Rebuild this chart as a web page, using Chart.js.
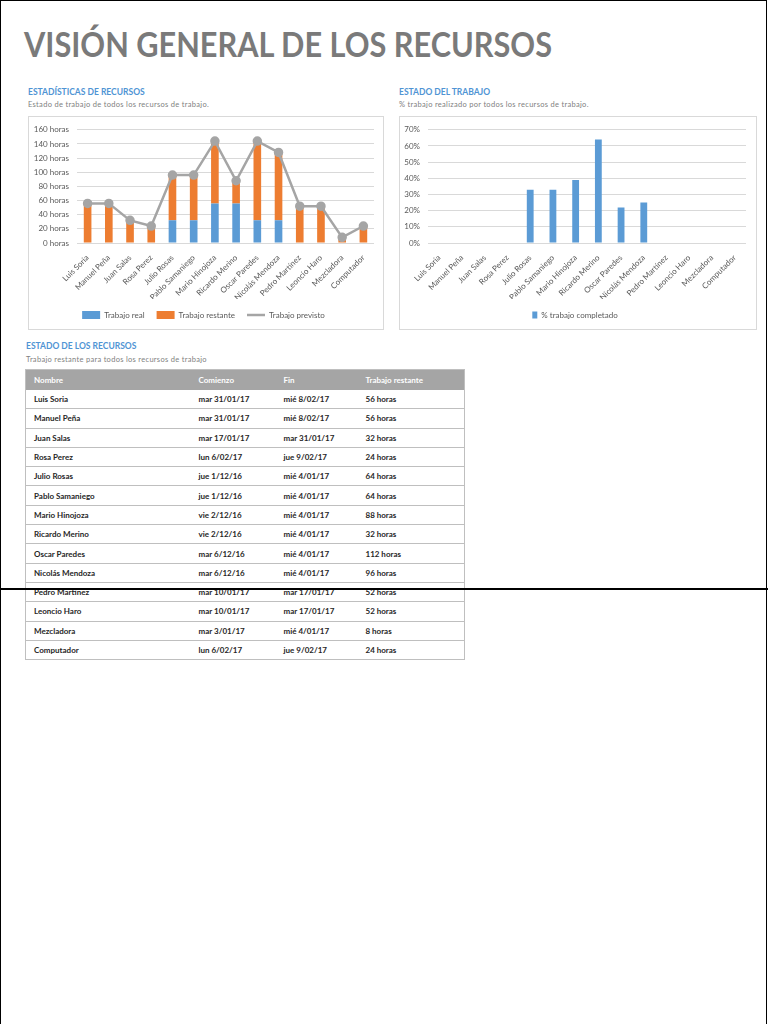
<!DOCTYPE html>
<html>
<head>
<meta charset="utf-8">
<script src="https://cdn.jsdelivr.net/npm/chart.js@4"></script>
<style>
  body { margin: 0; background: #fff; font-family: Lato, "Open Sans", sans-serif; }
  #page { position: relative; width: 768px; height: 1024px; overflow: hidden; }
  #page:before { content: ""; position: absolute; left: 0; top: 0; width: 765px; height: 1030px;
    border-left: 1.5px solid #000; border-top: 1.5px solid #000; border-right: 1.5px solid #000; }
  #titulo { position: absolute; left: 24px; top: 22px; font-size: 35px; font-weight: 700; color: #7a7a7a;
    white-space: nowrap; transform-origin: 0 0; letter-spacing: 0px; }
  .h { position: absolute; font-size: 8.5px; font-weight: 700; color: #4f94d4; white-space: nowrap; }
  .s { position: absolute; font-size: 7.5px; color: #7f7f7f; white-space: nowrap; letter-spacing: 0.3px; }
  .box { position: absolute; border: 1px solid #d9d9d9; box-sizing: border-box; }
  .box canvas { display: block; }
  #linea { position: absolute; left: 0; top: 588px; width: 768px; height: 2px; background: #000; }
  table { position: absolute; left: 25px; top: 369px; width: 440px; border-collapse: collapse; table-layout: fixed;
    font-size: 8px; font-weight: 700; color: #262626; border: 1px solid #bfbfbf; }
  th { background: #a5a5a5; color: #fff; text-align: left; height: 20px; padding: 0 0 0 8px; font-weight: 700; }
  td { height: 18.3px; padding: 0 0 0 8px; border-bottom: 1px solid #bfbfbf; white-space: nowrap; }
</style>
</head>
<body>
<div id="page">
  <div id="titulo">VISIÓN GENERAL DE LOS RECURSOS</div>

  <div class="h" style="left:28px;top:87px">ESTADÍSTICAS DE RECURSOS</div>
  <div class="s" style="left:28px;top:100px">Estado de trabajo de todos los recursos de trabajo.</div>
  <div class="box" style="left:28px;top:116px;width:356px;height:214px"><canvas id="graf1" width="354" height="212"></canvas></div>

  <div class="h" style="left:399px;top:87px">ESTADO DEL TRABAJO</div>
  <div class="s" style="left:399px;top:100px">% trabajo realizado por todos los recursos de trabajo.</div>
  <div class="box" style="left:399px;top:116px;width:358px;height:214px"><canvas id="graf2" width="356" height="212"></canvas></div>

  <div class="h" style="left:26px;top:341px">ESTADO DE LOS RECURSOS</div>
  <div class="s" style="left:26px;top:355px">Trabajo restante para todos los recursos de trabajo</div>
  <table id="tabla">
    <colgroup><col style="width:165px"><col style="width:85px"><col style="width:82px"><col></colgroup>
    <thead><tr><th>Nombre</th><th>Comienzo</th><th>Fin</th><th>Trabajo restante</th></tr></thead>
    <tbody></tbody>
  </table>
  <div id="linea"></div>
</div>
<script>
const recursos = ["Luis Soria", "Manuel Peña", "Juan Salas", "Rosa Perez", "Julio Rosas", "Pablo Samaniego",
  "Mario Hinojoza", "Ricardo Merino", "Oscar Paredes", "Nicolás Mendoza", "Pedro Martínez", "Leoncio Haro",
  "Mezcladora", "Computador"];
const trabajoReal = [0, 0, 0, 0, 32, 32, 56, 56, 32, 32, 0, 0, 0, 0];
const trabajoRestante = [56, 56, 32, 24, 64, 64, 88, 32, 112, 96, 52, 52, 8, 24];
const trabajoPrevisto = [56, 56, 32, 24, 96, 96, 144, 88, 144, 128, 52, 52, 8, 24];
const porcCompletado = [0, 0, 0, 0, 33, 33, 39, 64, 22, 25, 0, 0, 0, 0];
const comienzo = ["mar 31/01/17", "mar 31/01/17", "mar 17/01/17", "lun 6/02/17", "jue 1/12/16", "jue 1/12/16",
  "vie 2/12/16", "vie 2/12/16", "mar 6/12/16", "mar 6/12/16", "mar 10/01/17", "mar 10/01/17", "mar 3/01/17", "lun 6/02/17"];
const fin = ["mié 8/02/17", "mié 8/02/17", "mar 31/01/17", "jue 9/02/17", "mié 4/01/17", "mié 4/01/17",
  "mié 4/01/17", "mié 4/01/17", "mié 4/01/17", "mié 4/01/17", "mar 17/01/17", "mar 17/01/17", "mié 4/01/17", "jue 9/02/17"];

const azul = "#5b9bd5", naranja = "#ed7d31", gris = "#a5a5a5";
const texto = "#595959";
Chart.defaults.font.family = "Lato, 'Open Sans', sans-serif";
Chart.defaults.font.size = 8;
Chart.defaults.color = texto;

// titulo: ajustar ancho
const t = document.getElementById("titulo");
t.style.transform = "scaleX(" + (528 / t.offsetWidth) + ")";

// tabla
const tb = document.querySelector("#tabla tbody");
for (let i = 0; i < recursos.length; i++) {
  const tr = document.createElement("tr");
  [recursos[i], comienzo[i], fin[i], trabajoRestante[i] + " horas"].forEach(function(v){
    const td = document.createElement("td");
    td.textContent = v;
    tr.appendChild(td);
  });
  tb.appendChild(tr);
}

const fijarY = function(w){ return function(s){ s.width = w; }; };
const fijarX = function(h){ return function(s){ s.height = h; }; };
const etiquetas = function(chart){
  const items = Chart.defaults.plugins.legend.labels.generateLabels(chart);
  items.forEach(function(it){
    it.pointStyle = chart.data.datasets[it.datasetIndex].type === "line" ? "line" : "rect";
  });
  return items;
};

new Chart(document.getElementById("graf1"), {
  type: "bar",
  data: {
    labels: recursos,
    datasets: [
      { type: "line", label: "Trabajo previsto", data: trabajoPrevisto, stack: "linea",
        borderColor: gris, backgroundColor: gris, borderWidth: 2.5, pointRadius: 3.5,
        pointBackgroundColor: gris, pointBorderColor: gris, tension: 0 },
      { label: "Trabajo real", data: trabajoReal, backgroundColor: azul, stack: "barras" },
      { label: "Trabajo restante", data: trabajoRestante, backgroundColor: naranja, stack: "barras" }
    ]
  },
  options: {
    responsive: false,
    animation: false,
    devicePixelRatio: 1,
    layout: { padding: { left: 4, right: 9, top: 4, bottom: 0 } },
    datasets: { bar: { barPercentage: 1, categoryPercentage: 0.36 } },
    scales: {
      x: { stacked: true, grid: { display: false }, border: { display: false },
        ticks: { autoSkip: false, minRotation: 45, maxRotation: 45, padding: 2 },
        afterFit: fijarX(56) },
      y: { stacked: true, min: 0, max: 160, grid: { color: "#d9d9d9", drawTicks: false }, border: { display: false },
        ticks: { stepSize: 20, padding: 8, callback: function(v){ return v + " horas"; } },
        afterFit: fijarY(44) }
    },
    plugins: {
      legend: { position: "bottom",
        labels: { usePointStyle: true, pointStyleWidth: 18, boxHeight: 8, padding: 12,
          generateLabels: etiquetas,
          sort: function(a, b){ return (a.datasetIndex + 2) % 3 - (b.datasetIndex + 2) % 3; } } },
      tooltip: { enabled: false }
    }
  }
});

new Chart(document.getElementById("graf2"), {
  type: "bar",
  data: {
    labels: recursos,
    datasets: [
      { label: "% trabajo completado", data: porcCompletado, backgroundColor: azul }
    ]
  },
  options: {
    responsive: false,
    animation: false,
    devicePixelRatio: 1,
    layout: { padding: { left: 4, right: 10, top: 3, bottom: 0 } },
    datasets: { bar: { barPercentage: 1, categoryPercentage: 0.3 } },
    scales: {
      x: { grid: { display: false }, border: { display: false },
        ticks: { autoSkip: false, minRotation: 45, maxRotation: 45, padding: 2 },
        afterFit: fijarX(56) },
      y: { min: 0, max: 70, grid: { color: "#d9d9d9", drawTicks: false }, border: { display: false },
        ticks: { stepSize: 10, padding: 8, callback: function(v){ return v + "%"; } },
        afterFit: fijarY(24) }
    },
    plugins: {
      legend: { position: "bottom", labels: { boxWidth: 5, boxHeight: 7, padding: 12 } },
      tooltip: { enabled: false }
    }
  }
});
</script>
</body>
</html>
